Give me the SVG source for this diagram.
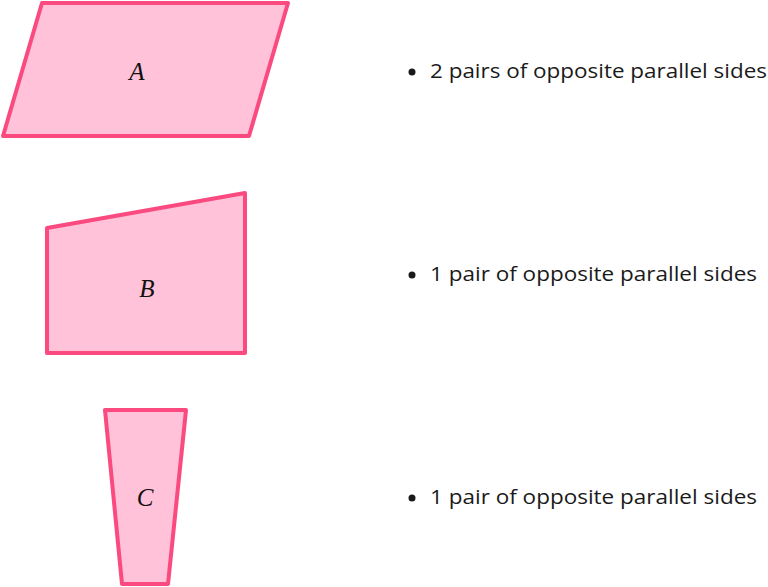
<svg xmlns="http://www.w3.org/2000/svg" width="768" height="587" viewBox="0 0 768 587">
<style>
.shape{fill:#FFC2D8;stroke:#FA4A80;stroke-width:4;stroke-linejoin:round}
.lbl{font-family:"Liberation Serif",serif;font-style:italic;font-size:25px;fill:#111;text-anchor:middle}
.txt{font-family:"Open Sans",sans-serif;font-size:20.5px;font-weight:500;fill:#1a1a1a}
</style>
<rect width="768" height="587" fill="#fff"/>
<g id="nodeA">
<polygon class="shape" points="42,3 288,3 249,136 3,136"/>
<text class="lbl" x="137" y="80">A</text>
</g>
<g id="nodeB">
<polygon class="shape" points="47,228 245,193 245,353 47,353"/>
<text class="lbl" x="147" y="297">B</text>
</g>
<g id="nodeC">
<polygon class="shape" points="105,410 186,410 168,584 122,584"/>
<text class="lbl" x="145" y="506">C</text>
</g>
<g id="connectors"></g>
<g id="notes">
<circle cx="412" cy="72" r="3.5" fill="#1a1a1a"/>
<text class="txt" x="430" y="78" textLength="337" lengthAdjust="spacingAndGlyphs">2 pairs of opposite parallel sides</text>
<circle cx="412" cy="275" r="3.5" fill="#1a1a1a"/>
<text class="txt" x="430" y="281" textLength="327" lengthAdjust="spacingAndGlyphs">1 pair of opposite parallel sides</text>
<circle cx="412" cy="498" r="3.5" fill="#1a1a1a"/>
<text class="txt" x="430" y="504" textLength="327" lengthAdjust="spacingAndGlyphs">1 pair of opposite parallel sides</text>
</g>
</svg>
